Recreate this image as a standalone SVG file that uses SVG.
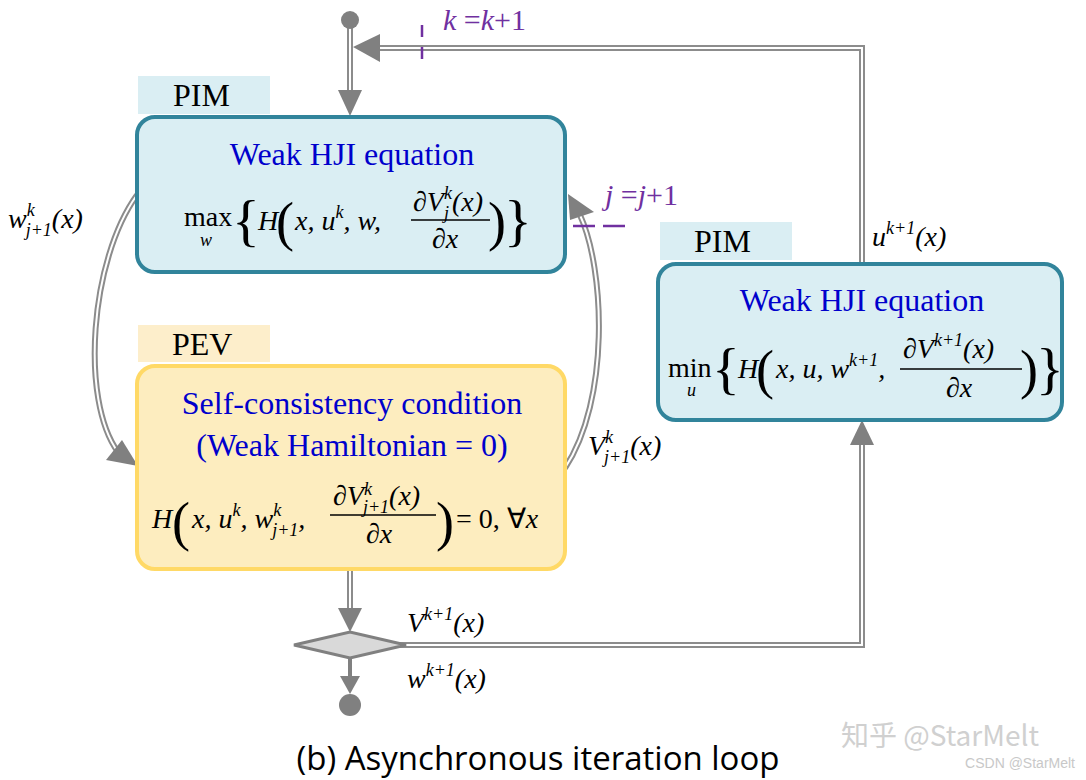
<svg xmlns="http://www.w3.org/2000/svg" width="1086" height="780" viewBox="0 0 1086 780">
<style>
.o{fill:none;stroke:#8c8c8c;stroke-width:6}
.i{fill:none;stroke:#fff;stroke-width:2}
.m{font-family:"Liberation Serif",serif;font-style:italic;font-size:28px;fill:#000}
.r{font-style:normal}
.t{font-family:"Liberation Serif",serif;font-size:32px;fill:#0000cc;text-anchor:middle}
.lab{font-family:"Liberation Serif",serif;font-size:32px;fill:#000}
.p{font-family:"Liberation Serif",serif;font-style:italic;font-size:30px;fill:#7030a0}
.ah{fill:#808080}
</style>
<rect width="1086" height="780" fill="#fff"/>
<g id="connectors">
<path class="o" d="M350,28V95"/><path class="i" d="M350,28V95"/>
<polygon class="ah" points="338,90 362,90 350,116"/>
<path class="o" d="M372,48H862V262"/><path class="i" d="M372,48H862V262"/>
<polygon class="ah" points="353,47 380,34 380,62"/>
<path class="o" d="M137,195C90,260 80,400 118,452"/><path class="i" d="M137,195C90,260 80,400 118,452"/>
<polygon class="ah" points="138,466 106,460 122,440"/>
<path class="o" d="M565,468C610,400 605,270 580,215"/><path class="i" d="M565,468C610,400 605,270 580,215"/>
<polygon class="ah" points="568,194 594,212 570,220"/>
<path class="o" d="M350,569V612"/><path class="i" d="M350,569V612"/>
<polygon class="ah" points="338,608 362,608 350,632"/>
<path class="o" d="M395,645H862V442"/><path class="i" d="M395,645H862V442"/>
<polygon class="ah" points="850,445 874,445 862,420"/>
<path d="M350,657V678" stroke="#808080" stroke-width="4"/>
<polygon class="ah" points="340,676 360,676 350,694"/>
<path d="M422,25V65" stroke="#7030a0" stroke-width="2.5" stroke-dasharray="12,10"/>
<path d="M573,226H625" stroke="#7030a0" stroke-width="2.5" stroke-dasharray="22,8"/>
</g>
<g id="start"><circle cx="350" cy="20" r="9" fill="#808080"/></g>
<g id="end"><circle cx="350" cy="705" r="11" fill="#808080"/></g>
<g id="decision"><polygon points="294,645 350,632 406,645 350,658" fill="#d9d9d9" stroke="#808080" stroke-width="3"/></g>
<g id="pim1">
<rect x="138" y="76" width="132" height="38" fill="#daeef3"/>
<text class="lab" x="173" y="106">PIM</text>
<rect x="137" y="117" width="428" height="155" rx="18" fill="#daeef3" stroke="#31849b" stroke-width="4"/>
<text class="t" x="352" y="165">Weak HJI equation</text>
<text class="m" x="184" y="226"><tspan class="r">max</tspan></text>
<text class="m" x="200" y="246" style="font-size:18px">w</text>
<text class="m r" x="232" y="240" style="font-size:58px">{</text>
<text class="m" x="258" y="230">H</text>
<text class="m r" x="276" y="240" style="font-size:54px">(</text>
<text class="m" x="295" y="230">x, u<tspan font-size="18" dy="-12">k</tspan><tspan dy="12">, w,</tspan></text>
<text class="m" x="413" y="211">∂V<tspan font-size="18" dy="8">j</tspan><tspan font-size="18" dx="-5" dy="-20">k</tspan><tspan dy="12">(x)</tspan></text>
<path d="M411,220H490" stroke="#000" stroke-width="1.5"/>
<text class="m" x="432" y="248">∂x</text>
<text class="m r" x="488" y="240" style="font-size:54px">)</text>
<text class="m r" x="504" y="240" style="font-size:58px">}</text>
</g>
<g id="pev">
<rect x="138" y="325" width="132" height="37" fill="#fdeecb"/>
<text class="lab" x="172" y="355">PEV</text>
<rect x="137" y="366" width="428" height="203" rx="18" fill="#fdedbf" stroke="#ffd966" stroke-width="4"/>
<text class="t" x="352" y="414">Self-consistency condition</text>
<text class="t" x="352" y="456">(Weak Hamiltonian = 0)</text>
<text class="m" x="152" y="528">H</text>
<text class="m r" x="172" y="540" style="font-size:54px">(</text>
<text class="m" x="192" y="528">x, u<tspan font-size="18" dy="-12">k</tspan><tspan dy="12">, w</tspan><tspan font-size="18" dy="-12">k</tspan><tspan font-size="18" dx="-9" dy="20">j+1</tspan><tspan dy="-8">,</tspan></text>
<text class="m" x="333" y="505">∂V<tspan font-size="18" dy="-10">k</tspan><tspan font-size="18" dx="-9" dy="18">j+1</tspan><tspan dy="-8">(x)</tspan></text>
<path d="M330,515H436" stroke="#000" stroke-width="1.5"/>
<text class="m" x="366" y="543">∂x</text>
<text class="m r" x="436" y="540" style="font-size:54px">)</text>
<text class="m" x="456" y="528"><tspan class="r">= 0, ∀</tspan>x</text>
</g>
<g id="pim2">
<rect x="660" y="222" width="132" height="38" fill="#daeef3"/>
<text class="lab" x="694" y="252">PIM</text>
<rect x="658" y="264" width="404" height="156" rx="18" fill="#daeef3" stroke="#31849b" stroke-width="4"/>
<text class="t" x="862" y="311">Weak HJI equation</text>
<text class="m" x="668" y="377"><tspan class="r">min</tspan></text>
<text class="m" x="687" y="396" style="font-size:18px">u</text>
<text class="m r" x="712" y="388" style="font-size:58px">{</text>
<text class="m" x="738" y="378">H</text>
<text class="m r" x="756" y="388" style="font-size:54px">(</text>
<text class="m" x="776" y="378">x, u, w<tspan font-size="18" dy="-12">k+1</tspan><tspan dy="12">,</tspan></text>
<text class="m" x="903" y="358">∂V<tspan font-size="18" dy="-12">k+1</tspan><tspan dy="12">(x)</tspan></text>
<path d="M900,369H1022" stroke="#000" stroke-width="1.5"/>
<text class="m" x="946" y="397">∂x</text>
<text class="m r" x="1020" y="388" style="font-size:54px">)</text>
<text class="m r" x="1036" y="388" style="font-size:58px">}</text>
</g>
<g id="labels">
<text class="p" x="443" y="30">k <tspan class="r">=</tspan>k<tspan class="r">+1</tspan></text>
<text class="p" x="605" y="205">j <tspan class="r">=</tspan>j<tspan class="r">+1</tspan></text>
<text class="m" x="8" y="228">w<tspan font-size="18" dy="-12">k</tspan><tspan font-size="18" dx="-9" dy="20">j+1</tspan><tspan dy="-8">(x)</tspan></text>
<text class="m" x="588" y="455">V<tspan font-size="18" dy="-12">k</tspan><tspan font-size="18" dx="-9" dy="20">j+1</tspan><tspan dy="-8">(x)</tspan></text>
<text class="m" x="872" y="246">u<tspan font-size="18" dy="-12">k+1</tspan><tspan dy="12">(x)</tspan></text>
<text class="m" x="407" y="632">V<tspan font-size="18" dy="-12">k+1</tspan><tspan dy="12">(x)</tspan></text>
<text class="m" x="407" y="688">w<tspan font-size="18" dy="-12">k+1</tspan><tspan dy="12">(x)</tspan></text>
<text x="538" y="770" text-anchor="middle" font-family="Open Sans,sans-serif" font-size="33" fill="#000">(b) Asynchronous iteration loop</text>
<text x="940" y="746" text-anchor="middle" font-family="Noto Sans CJK SC,sans-serif" font-size="28" fill="#d0d0d0">知乎 @StarMelt</text>
<text x="1075" y="768" text-anchor="end" font-family="Liberation Sans,sans-serif" font-size="14" fill="#c8c8c8">CSDN @StarMelt</text>
</g>
</svg>
